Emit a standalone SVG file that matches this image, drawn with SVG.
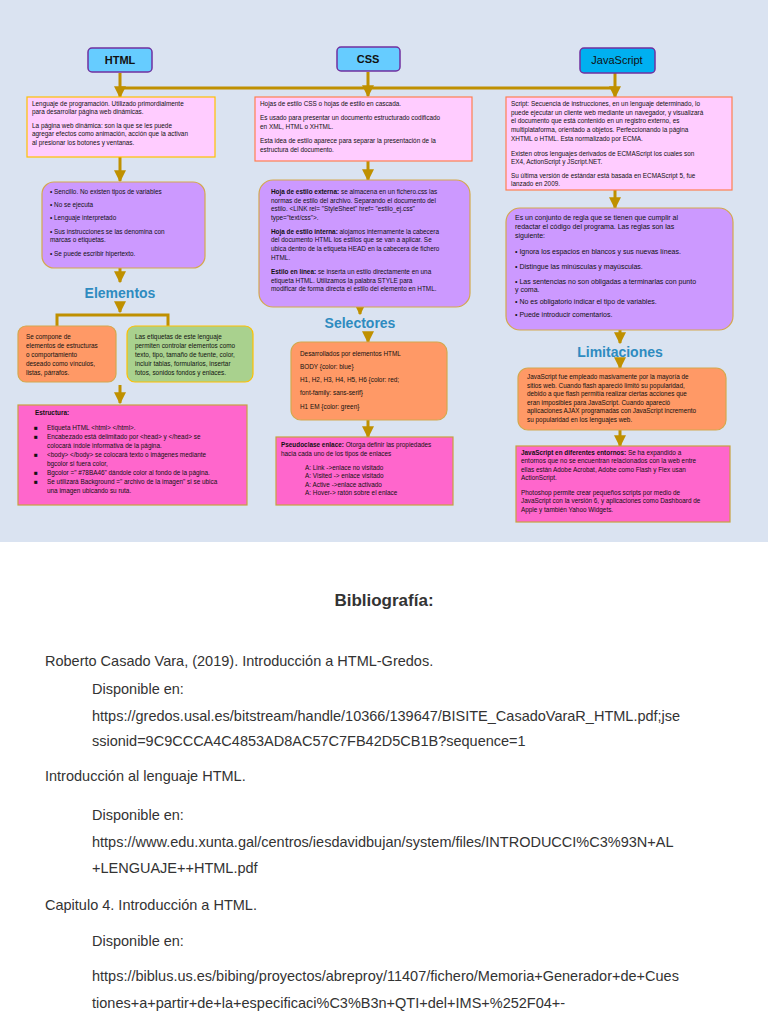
<svg xmlns="http://www.w3.org/2000/svg" width="768" height="1024" viewBox="0 0 768 1024">
<style>
.t{font-family:"Liberation Sans",Arial,sans-serif;font-size:6.4px;fill:#111}
.tb{font-weight:bold}
.hd{font-family:"Liberation Sans",Arial,sans-serif;font-size:11px;font-weight:bold;fill:#111;text-anchor:middle}
.sec{font-family:"Liberation Sans",Arial,sans-serif;font-size:14px;font-weight:bold;fill:#2e8bc0;text-anchor:middle}
.bib{font-family:"Liberation Sans",Arial,sans-serif;font-size:14.5px;fill:#333}
.head{fill:#66ccff;stroke:#7030a0;stroke-width:1.5}
.pink{fill:#ffccff;stroke:#ffc000;stroke-width:1.2}
.pink2{fill:#ffccff;stroke:#ff7f50;stroke-width:1.2}
.purp{fill:#cc99ff;stroke:#d4a84e;stroke-width:1.2}
.orng{fill:#ff9966;stroke:#d4a84e;stroke-width:1.2}
.grn{fill:#a9d18e;stroke:#ffc000;stroke-width:1.2}
.mag{fill:#ff66cc;stroke:#c8a040;stroke-width:1.2}
.ln{stroke:#bf9000;stroke-width:3;fill:none}
</style>
<defs>
<marker id="ar" viewBox="0 0 10 10" refX="9" refY="5" markerWidth="4" markerHeight="4" orient="auto"><path d="M0,0 L10,5 L0,10 Z" fill="#bf9000"/></marker></defs>
<rect x="0" y="0" width="768" height="542" fill="#dae3f1"/>
<rect x="0" y="542" width="768" height="482" fill="#fff"/>
<g id="connectors">
<path class="ln" d="M120,73 V88 M368,72 V88 M615,73 V88 M120,88 H615"/>
<path class="ln" marker-end="url(#ar)" d="M120,88 V97"/>
<path class="ln" marker-end="url(#ar)" d="M368,88 V96"/>
<path class="ln" marker-end="url(#ar)" d="M615,88 V97"/>
<path class="ln" marker-end="url(#ar)" d="M120,157 V181"/>
<path class="ln" marker-end="url(#ar)" d="M120,268 V282"/>
<path class="ln" marker-end="url(#ar)" d="M120,303 V312"/>
<path class="ln" d="M57,326 V315 H168 V326"/>
<path class="ln" marker-end="url(#ar)" d="M120,385 V403"/>
<path class="ln" marker-end="url(#ar)" d="M368,161 V180"/>
<path class="ln" marker-end="url(#ar)" d="M360,307 V314"/>
<path class="ln" marker-end="url(#ar)" d="M368,332 V342"/>
<path class="ln" marker-end="url(#ar)" d="M368,420 V437"/>
<path class="ln" marker-end="url(#ar)" d="M615,190 V208"/>
<path class="ln" marker-end="url(#ar)" d="M620,330 V343"/>
<path class="ln" marker-end="url(#ar)" d="M620,360 V368"/>
<path class="ln" marker-end="url(#ar)" d="M620,430 V446"/>
</g>
<g id="html"><rect class="head" x="88" y="48" width="64" height="24" rx="4"/><text class="hd" x="120" y="64">HTML</text></g>
<g id="css"><rect class="head" x="337" y="47" width="63" height="24" rx="4"/><text class="hd" x="368" y="63">CSS</text></g>
<g id="js"><rect class="head" x="580" y="48" width="75" height="25" rx="4" style="fill:#00b0f0"/><text class="hd" x="617" y="64" style="font-weight:normal">JavaScript</text></g>

<g id="html-def"><rect class="pink" x="27" y="97" width="188" height="60"/>
<text class="t"><tspan x="32" y="106">Lenguaje de programación. Utilizado primordialmente</tspan><tspan x="32" y="114">para desarrollar página web dinámicas.</tspan><tspan x="32" y="128">La página web dinámica: son la que se les puede</tspan><tspan x="32" y="136">agregar efectos como animación, acción que la activan</tspan><tspan x="32" y="145">al presionar los botones y ventanas.</tspan></text></g>
<g id="html-feat"><rect class="purp" x="42" y="182" width="163" height="86" rx="12"/>
<text class="t"><tspan x="50" y="194">• Sencillo.  No existen tipos de variables</tspan><tspan x="50" y="207">• No se ejecuta</tspan><tspan x="50" y="220">• Lenguaje interpretado</tspan><tspan x="50" y="234">• Sus instrucciones se las denomina con</tspan><tspan x="50" y="242">marcas o etiquetas.</tspan><tspan x="50" y="256">• Se puede escribir hipertexto.</tspan></text></g>
<g id="elementos"><text class="sec" x="120" y="298">Elementos</text></g>
<g id="el-a"><rect class="orng" x="18" y="326" width="98" height="56" rx="8"/>
<text class="t"><tspan x="26" y="339">Se compone de</tspan><tspan x="26" y="348">elementos de estructuras</tspan><tspan x="26" y="357">o comportamiento</tspan><tspan x="26" y="366">deseado como vínculos,</tspan><tspan x="26" y="375">listas, párrafos.</tspan></text></g>
<g id="el-b"><rect class="grn" x="127" y="326" width="126" height="56" rx="8"/>
<text class="t"><tspan x="135" y="339">Las etiquetas de este lenguaje</tspan><tspan x="135" y="348">permiten controlar elementos como</tspan><tspan x="135" y="357">texto, tipo, tamaño de fuente, color,</tspan><tspan x="135" y="366">incluir tablas, formularios, insertar</tspan><tspan x="135" y="375">fotos, sonidos fondos y enlaces.</tspan></text></g>
<g id="estructura"><rect class="mag" x="18" y="405" width="229" height="100"/>
<text class="t tb" x="35" y="415">Estructura:</text>
<text class="t"><tspan x="34" y="430">■</tspan><tspan x="34" y="439">■</tspan><tspan x="34" y="457">■</tspan><tspan x="34" y="475">■</tspan><tspan x="34" y="484">■</tspan></text>
<text class="t"><tspan x="47" y="430">Etiqueta HTML &lt;html&gt; &lt;/html&gt;.</tspan><tspan x="47" y="439">Encabezado está delimitado por &lt;head&gt; y &lt;/head&gt; se</tspan><tspan x="47" y="448">colocará índole informativa de la página.</tspan><tspan x="47" y="457">&lt;body&gt; &lt;/body&gt; se colocará texto o imágenes mediante</tspan><tspan x="47" y="466">bgcolor si fuera color,</tspan><tspan x="47" y="475">Bgcolor =" #78BA46" dándole color al fondo de la página.</tspan><tspan x="47" y="484">Se utilizará Background =" archivo de la imagen" si se ubica</tspan><tspan x="47" y="493">una imagen ubicando su ruta.</tspan></text></g>

<g id="css-def"><rect class="pink2" x="255" y="97" width="217" height="64"/>
<text class="t"><tspan x="260" y="106">Hojas de estilo CSS o hojas de estilo en cascada.</tspan><tspan x="260" y="120">Es usado para presentar un documento estructurado codificado</tspan><tspan x="260" y="129">en XML, HTML o XHTML.</tspan><tspan x="260" y="143">Esta idea de estilo aparece para separar la presentación de la</tspan><tspan x="260" y="152">estructura del documento.</tspan></text></g>
<g id="css-types"><rect class="purp" x="259" y="180" width="211" height="127" rx="14"/>
<text class="t"><tspan x="271" y="194"><tspan class="tb">Hoja de estilo externa:</tspan> se almacena en un fichero.css las</tspan><tspan x="271" y="203">normas de estilo del archivo. Separando el documento del</tspan><tspan x="271" y="211">estilo. &lt;LINK rel= "StyleSheet" href= "estilo_ej.css"</tspan><tspan x="271" y="220">type="text/css"&gt;.</tspan><tspan x="271" y="234"><tspan class="tb">Hoja de estilo interna:</tspan> alojamos internamente la cabecera</tspan><tspan x="271" y="242">del documento HTML los estilos que se van a aplicar. Se</tspan><tspan x="271" y="251">ubica dentro de la etiqueta HEAD en la cabecera de fichero</tspan><tspan x="271" y="260">HTML.</tspan><tspan x="271" y="274"><tspan class="tb">Estilo en línea:</tspan> se inserta un estilo directamente en una</tspan><tspan x="271" y="283">etiqueta HTML. Utilizamos la palabra STYLE para</tspan><tspan x="271" y="291">modificar de forma directa el estilo del elemento en HTML.</tspan></text></g>
<g id="selectores"><text class="sec" x="360" y="328">Selectores</text></g>
<g id="sel-a"><rect class="orng" x="291" y="342" width="156" height="78" rx="10"/>
<text class="t"><tspan x="300" y="356">Desarrollados por elementos HTML</tspan><tspan x="300" y="369">BODY {color: blue}</tspan><tspan x="300" y="382">H1, H2, H3, H4, H5, H6 {color: red;</tspan><tspan x="300" y="395">font-family: sans-serif}</tspan><tspan x="300" y="409">H1 EM {color: green}</tspan></text></g>
<g id="sel-b"><rect class="mag" x="276" y="437" width="177" height="68"/>
<text class="t"><tspan x="281" y="447"><tspan class="tb">Pseudoclase enlace:</tspan> Otorga definir las propiedades</tspan><tspan x="281" y="456">hacia cada uno de los tipos de enlaces</tspan><tspan x="305" y="470">A: Link -&gt;enlace no visitado</tspan><tspan x="305" y="478">A: Visited -&gt; enlace visitado</tspan><tspan x="305" y="487">A: Active -&gt;enlace activado</tspan><tspan x="305" y="495">A: Hover-&gt; ratón sobre el enlace</tspan></text></g>

<g id="js-def"><rect class="pink2" x="506" y="97" width="226" height="93"/>
<text class="t"><tspan x="511" y="106">Script: Secuencia de instrucciones, en un lenguaje determinado, lo</tspan><tspan x="511" y="115">puede ejecutar un cliente web mediante un navegador, y visualizará</tspan><tspan x="511" y="123">el documento que está contenido en un registro externo, es</tspan><tspan x="511" y="132">multiplataforma, orientado a objetos. Perfeccionando la página</tspan><tspan x="511" y="141">XHTML o HTML. Esta normalizado por ECMA.</tspan><tspan x="511" y="156">Existen otros lenguajes derivados de ECMAScript los cuales son</tspan><tspan x="511" y="164">EX4, ActionScript y JScript.NET.</tspan><tspan x="511" y="178">Su última versión de estándar está basada en ECMAScript 5, fue</tspan><tspan x="511" y="186">lanzado en 2009.</tspan></text></g>
<g id="js-rules"><rect class="purp" x="506" y="208" width="227" height="122" rx="14"/>
<text class="t" style="font-size:7px"><tspan x="515" y="220">Es un conjunto de regla que se tienen que cumplir al</tspan><tspan x="515" y="229">redactar el código del programa. Las reglas son las</tspan><tspan x="515" y="238">siguiente:</tspan><tspan x="515" y="254">• Ignora los espacios en blancos y sus nuevas líneas.</tspan><tspan x="515" y="269">• Distingue las minúsculas y mayúsculas.</tspan><tspan x="515" y="284">• Las sentencias no son obligadas a terminarlas con punto</tspan><tspan x="515" y="292">y coma.</tspan><tspan x="515" y="304">• No es obligatorio indicar el tipo de variables.</tspan><tspan x="515" y="317">• Puede introducir comentarios.</tspan></text></g>
<g id="limitaciones"><text class="sec" x="620" y="357">Limitaciones</text></g>
<g id="lim-a"><rect class="orng" x="518" y="368" width="208" height="62" rx="10"/>
<text class="t"><tspan x="527" y="379">JavaScript fue empleado masivamente por la mayoría de</tspan><tspan x="527" y="388">sitios web. Cuando flash apareció limitó su popularidad,</tspan><tspan x="527" y="396">debido a que flash permitía realizar ciertas acciones que</tspan><tspan x="527" y="405">eran imposibles para JavaScript. Cuando apareció</tspan><tspan x="527" y="413">aplicaciones AJAX programadas con JavaScript incremento</tspan><tspan x="527" y="422">su popularidad en los lenguajes web.</tspan></text></g>
<g id="lim-b"><rect class="mag" x="516" y="446" width="214" height="76"/>
<text class="t"><tspan x="521" y="455"><tspan class="tb">JavaScript en diferentes entornos:</tspan> Se ha expandido a</tspan><tspan x="521" y="463">entornos que no se encuentran relacionados con la web entre</tspan><tspan x="521" y="472">ellas están Adobe Acrobat, Adobe como Flash y Flex usan</tspan><tspan x="521" y="480">ActionScript.</tspan><tspan x="521" y="495">Photoshop permite crear pequeños scripts por medio de</tspan><tspan x="521" y="503">JavaScript con la versión 6, y aplicaciones como Dashboard de</tspan><tspan x="521" y="512">Apple y también Yahoo Widgets.</tspan></text></g>

<g id="bibliografia">
<text class="bib" x="384" y="606" text-anchor="middle" style="font-weight:bold;font-size:17px">Bibliografía:</text>
<text class="bib" x="45" y="666">Roberto Casado Vara, (2019). Introducción a HTML-Gredos.</text>
<text class="bib" x="92" y="694">Disponible en:</text>
<text class="bib" x="92" y="721">https://gredos.usal.es/bitstream/handle/10366/139647/BISITE_CasadoVaraR_HTML.pdf;jse</text>
<text class="bib" x="92" y="746">ssionid=9C9CCCA4C4853AD8AC57C7FB42D5CB1B?sequence=1</text>
<text class="bib" x="45" y="781">Introducción al lenguaje HTML.</text>
<text class="bib" x="92" y="820">Disponible en:</text>
<text class="bib" x="92" y="847">https://www.edu.xunta.gal/centros/iesdavidbujan/system/files/INTRODUCCI%C3%93N+AL</text>
<text class="bib" x="92" y="873">+LENGUAJE++HTML.pdf</text>
<text class="bib" x="45" y="910">Capitulo 4. Introducción a HTML.</text>
<text class="bib" x="92" y="946">Disponible en:</text>
<text class="bib" x="92" y="981">https://biblus.us.es/bibing/proyectos/abreproy/11407/fichero/Memoria+Generador+de+Cues</text>
<text class="bib" x="92" y="1008">tiones+a+partir+de+la+especificaci%C3%B3n+QTI+del+IMS+%252F04+-</text>
</g>
</svg>
